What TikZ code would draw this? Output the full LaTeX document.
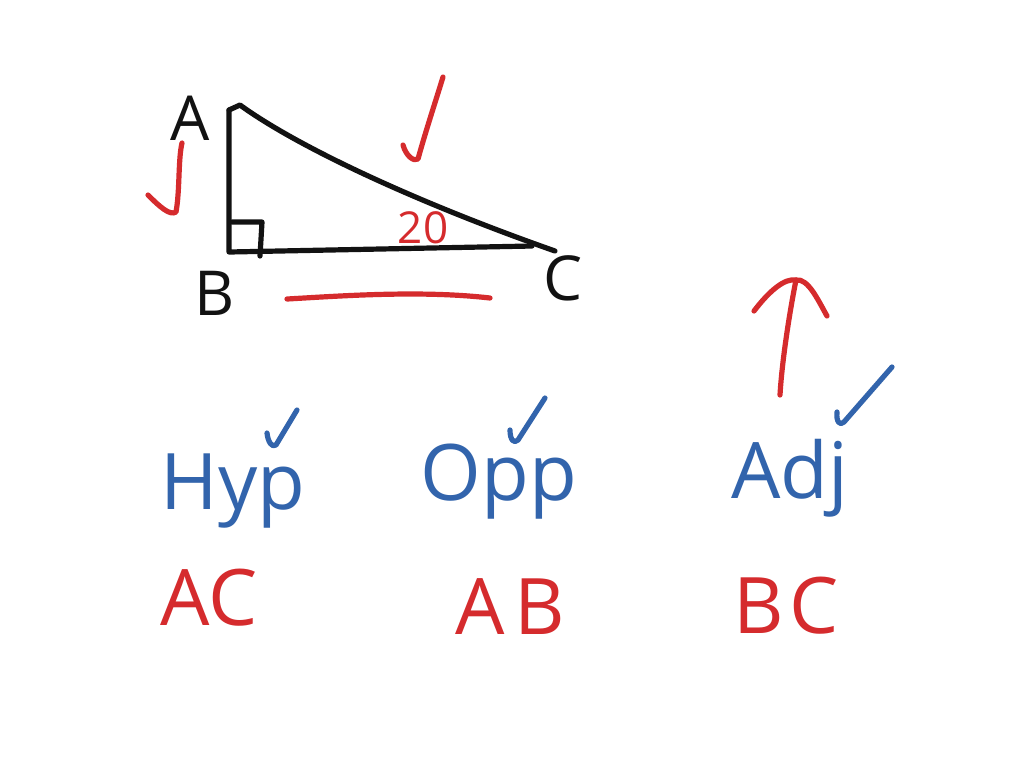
\documentclass[tikz,border=0pt]{standalone}
\usepackage{fontspec}
\setmainfont{Open Sans}
\usetikzlibrary{arrows.meta, positioning}

\definecolor{markred}{RGB}{213,43,45}
\definecolor{markblue}{RGB}{50,100,172}
\definecolor{markblack}{RGB}{18,18,18}

\begin{document}
\begin{tikzpicture}[x=0.5pt, y=-0.5pt,
            pen/.style={line width=2.6pt, line cap=round, line join=round},
            vertex label/.style={font=\fontsize{31}{31}\selectfont, text=markblack, anchor=base},
            angle label/.style={font=\fontsize{22}{22}\selectfont, text=markred, anchor=base},
            ratio name/.style={font=\fontsize{39}{39}\selectfont, text=markblue, anchor=base},
            side name/.style={font=\fontsize{39}{39}\selectfont, text=markred, anchor=base}]

            \useasboundingbox[fill=white] (0,0) rectangle (1024,768);

            % Right triangle
            \coordinate (A) at (229,110);
            \coordinate (B) at (229,252);
            \coordinate (C) at (532,246);
            \draw[pen, draw=markblack] (A) -- (B) -- (C);
            \draw[pen, draw=markblack] (A) -- (240,105) .. controls (295,145) and (410,200) .. (555,251);
            \draw[pen, draw=markblack] (232,222) -- (262,222) -- (260,256);

            \node[vertex label] (vertex-a) at (190,140) {A};
            \node[vertex label] (vertex-b) at (215,315) {B};
            \node[vertex label] (vertex-c) at (563,300) {C};
            \node[angle label] (angle-c) at (423,243) {20};

            % Red marks on the triangle
            \draw[pen, draw=markred] (148,195) .. controls (160,207) and (170,216) .. (176,212) .. controls (180,190) and (178,160) .. (182,143);
            \draw[pen, draw=markred] (403,145) .. controls (406,156) and (414,162) .. (418,159) .. controls (426,130) and (436,100) .. (443,77);
            \draw[pen, draw=markred] (287,299) .. controls (340,296) and (420,290) .. (490,298);

            % Side names
            \node[ratio name] (hyp) at (233,509) {Hyp};
            \node[ratio name] (opp) at (499,500) {Opp};
            \node[ratio name] (adj) at (790,498) {Adj};

            \node[side name] (side-ac) at (209,625) {AC};
            \node[side name] (side-ab) at (510,634) {A\hspace{5pt}B};
            \node[side name] (side-bc) at (786,633) {B\hspace{3pt}C};

            % Blue ticks
            \draw[pen, draw=markblue] (267,433) .. controls (268,442) and (272,448) .. (276,445) -- (297,410);
            \draw[pen, draw=markblue] (510,430) .. controls (510,440) and (514,444) .. (518,440) -- (545,398);
            \draw[pen, draw=markblue] (837,412) .. controls (836,422) and (840,426) .. (844,422) -- (892,367);

            % Arrow above Adj
            \coordinate (arrow-tail) at (780,395);
            \coordinate (arrow-tip) at (796,280);
            \draw[pen, draw=markred] (arrow-tail) .. controls (782,360) and (790,310) .. (arrow-tip);
            \draw[pen, draw=markred] (754,311) .. controls (770,290) and (785,278) .. (arrow-tip) .. controls (808,278) and (818,300) .. (827,316);
        \end{tikzpicture}
\end{document}
